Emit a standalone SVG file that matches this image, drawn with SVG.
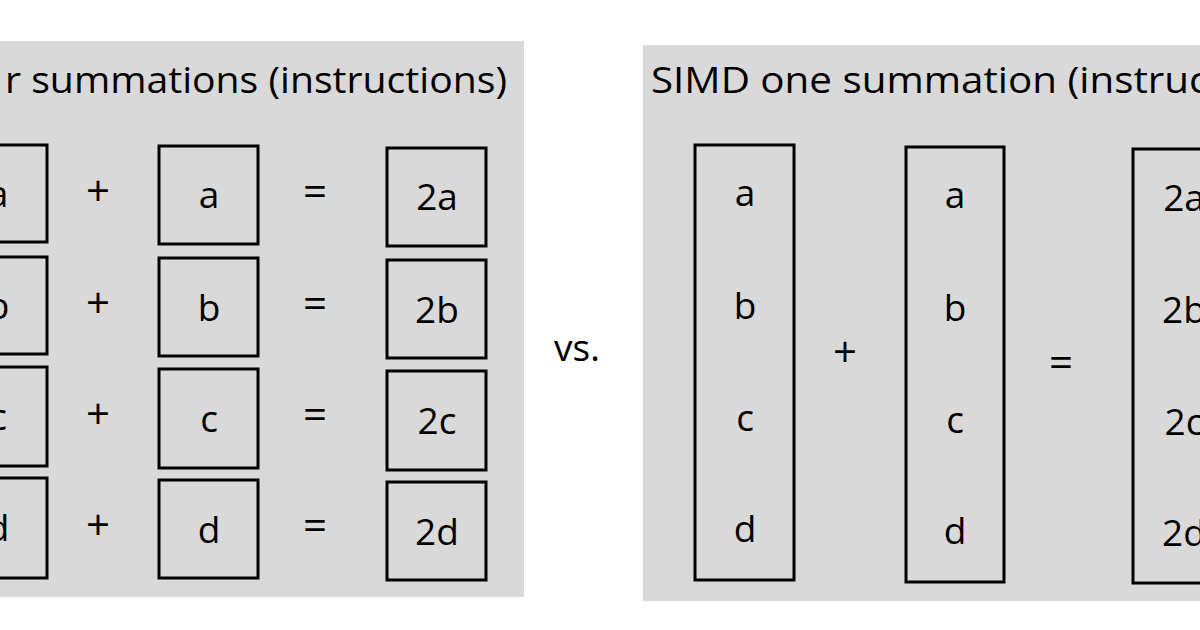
<svg xmlns="http://www.w3.org/2000/svg" width="1200" height="630" viewBox="0 0 1200 630">
<style>
.p{fill:#d9d9d9}
.b{fill:none;stroke:#000;stroke-width:3}
text{font-family:"Open Sans","Liberation Sans",sans-serif;fill:#000;text-anchor:middle}
.t{font-size:37px;text-anchor:start}
.l{font-size:37px}
.o{font-size:42px}
</style>
<rect width="1200" height="630" fill="#fff"/>
<rect class="p" x="-5" y="41" width="529" height="556"/>
<rect class="p" x="643" y="45" width="570" height="556"/>
<text class="t" x="5" y="93" textLength="502" lengthAdjust="spacingAndGlyphs">r summations (instructions)</text>
<text class="t" x="651" y="93" textLength="662" lengthAdjust="spacingAndGlyphs">SIMD one summation (instructions)</text>
<g id="left">
<g id="l1"><rect class="b" x="-52" y="145" width="99" height="97"/><rect class="b" x="159" y="146" width="99" height="98"/><rect class="b" x="387" y="148" width="99" height="98"/>
<text class="l" x="-2" y="207">a</text><text class="o" x="98" y="206">+</text><text class="l" x="209" y="208">a</text><text class="o" x="315" y="206">=</text><text class="l" x="437" y="210">2a</text></g>
<g id="l2"><rect class="b" x="-52" y="257" width="99" height="97"/><rect class="b" x="159" y="258" width="99" height="98"/><rect class="b" x="387" y="260" width="99" height="98"/>
<text class="l" x="-2" y="319">b</text><text class="o" x="98" y="318">+</text><text class="l" x="209" y="321">b</text><text class="o" x="315" y="318">=</text><text class="l" x="437" y="323">2b</text></g>
<g id="l3"><rect class="b" x="-52" y="367" width="99" height="99"/><rect class="b" x="159" y="369" width="99" height="99"/><rect class="b" x="387" y="371" width="99" height="99"/>
<text class="l" x="-2" y="430">c</text><text class="o" x="98" y="429">+</text><text class="l" x="209" y="432">c</text><text class="o" x="315" y="429">=</text><text class="l" x="437" y="434">2c</text></g>
<g id="l4"><rect class="b" x="-52" y="478" width="99" height="100"/><rect class="b" x="159" y="480" width="99" height="98"/><rect class="b" x="387" y="482" width="99" height="98"/>
<text class="l" x="-2" y="541">d</text><text class="o" x="98" y="540">+</text><text class="l" x="209" y="543">d</text><text class="o" x="315" y="540">=</text><text class="l" x="437" y="545">2d</text></g>
</g>
<text class="l" x="577" y="361">vs.</text>
<g id="right">
<g id="r1"><rect class="b" x="695" y="145" width="99" height="435"/>
<text class="l" x="745" y="206">a</text><text class="l" x="745" y="319">b</text><text class="l" x="745" y="431">c</text><text class="l" x="745" y="542">d</text></g>
<text class="o" x="845" y="367">+</text>
<g id="r2"><rect class="b" x="906" y="147" width="98" height="435"/>
<text class="l" x="955" y="208">a</text><text class="l" x="955" y="321">b</text><text class="l" x="955" y="433">c</text><text class="l" x="955" y="544">d</text></g>
<text class="o" x="1061" y="377">=</text>
<g id="r3"><rect class="b" x="1133" y="149" width="99" height="434"/>
<text class="l" x="1184" y="211">2a</text><text class="l" x="1184" y="323">2b</text><text class="l" x="1184" y="435">2c</text><text class="l" x="1184" y="546">2d</text></g>
</g>
</svg>
